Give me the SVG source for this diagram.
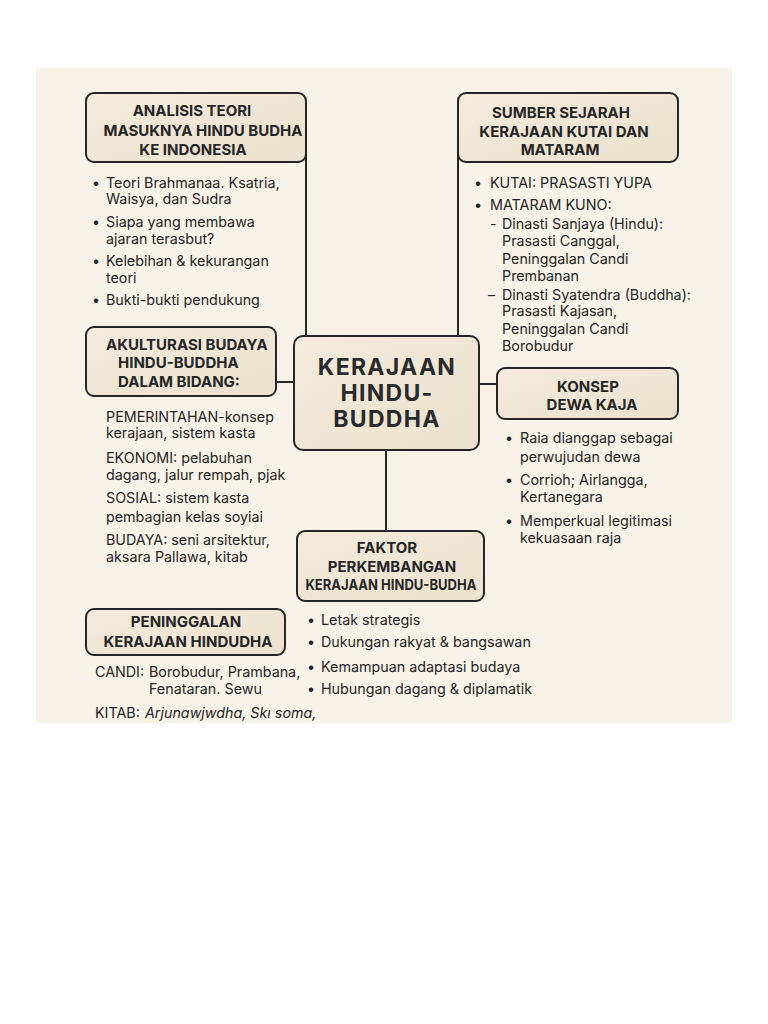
<svg xmlns="http://www.w3.org/2000/svg" width="768" height="1024" viewBox="0 0 768 1024">
<defs>
<linearGradient id="bf" x1="0" y1="0" x2="1" y2="1">
<stop offset="0" stop-color="#f3ebdc"/><stop offset="1" stop-color="#ebe1ce"/>
</linearGradient>
<style>
.box{fill:url(#bf);stroke:#262626;stroke-width:2}
.hd{font-family:Inter,"Noto Sans",sans-serif;font-weight:700;font-size:15px;fill:#262626}
.ct{font-family:Inter,"Noto Sans",sans-serif;font-weight:700;font-size:23px;letter-spacing:1.3px;fill:#2a2a2a;text-anchor:middle}
.tx{font-family:Inter,"Noto Sans",sans-serif;font-size:14.3px;fill:#262626}
.mid{text-anchor:middle}
.ln{stroke:#262626;stroke-width:2;fill:none}
</style>
</defs>
<rect x="0" y="0" width="768" height="1024" fill="#ffffff"/>
<rect x="36" y="68" width="696" height="655" fill="#f8f3e8"/>

<g id="connectors">
<line class="ln" x1="306" y1="150" x2="306" y2="337"/>
<line class="ln" x1="458" y1="150" x2="458" y2="337"/>
<line class="ln" x1="276" y1="382" x2="294" y2="382"/>
<line class="ln" x1="479" y1="384" x2="497" y2="384"/>
<line class="ln" x1="386" y1="450" x2="386" y2="531"/>
</g>

<g id="central">
<rect class="box" x="294" y="336" width="185" height="114" rx="9"/>
<text class="ct" x="387" y="375">KERAJAAN</text>
<text class="ct" x="387" y="401">HINDU-</text>
<text class="ct" x="387" y="427">BUDDHA</text>
</g>

<g id="analisis">
<rect class="box" x="86" y="93" width="220" height="69" rx="8"/>
<text class="hd mid" x="192" y="116">ANALISIS TEORI</text>
<text class="hd mid" x="203" y="136">MASUKNYA HINDU BUDHA</text>
<text class="hd mid" x="193" y="155">KE INDONESIA</text>
<g class="tx">
<text x="92" y="188">•</text><text x="106" y="188">Teori Brahmanaa. Ksatria,</text>
<text x="106" y="204">Waisya, dan Sudra</text>
<text x="92" y="227">•</text><text x="106" y="227">Siapa yang membawa</text>
<text x="106" y="244">ajaran terasbut?</text>
<text x="92" y="266">•</text><text x="106" y="266">Kelebihan &amp; kekurangan</text>
<text x="106" y="283">teori</text>
<text x="92" y="305">•</text><text x="106" y="305">Bukti-bukti pendukung</text>
</g>
</g>

<g id="sumber">
<rect class="box" x="458" y="93" width="220" height="69" rx="8"/>
<text class="hd mid" x="561" y="118">SUMBER SEJARAH</text>
<text class="hd mid" x="564" y="137">KERAJAAN KUTAI DAN</text>
<text class="hd mid" x="560" y="155">MATARAM</text>
<g class="tx">
<text x="474" y="188">•</text><text x="490" y="188">KUTAI: PRASASTI YUPA</text>
<text x="474" y="210">•</text><text x="490" y="210">MATARAM KUNO:</text>
<text x="490" y="229">-</text><text x="502" y="229">Dinasti Sanjaya (Hindu):</text>
<text x="502" y="246">Prasasti Canggal,</text>
<text x="502" y="264">Peninggalan Candi</text>
<text x="502" y="281">Prembanan</text>
<text x="488" y="300">–</text><text x="502" y="300">Dinasti Syatendra (Buddha):</text>
<text x="502" y="316">Prasasti Kajasan,</text>
<text x="502" y="334">Peninggalan Candi</text>
<text x="502" y="351">Borobudur</text>
</g>
</g>

<g id="akulturasi">
<rect class="box" x="86" y="327" width="190" height="69" rx="8"/>
<text class="hd" x="106" y="350">AKULTURASI BUDAYA</text>
<text class="hd" x="118" y="368">HINDU-BUDDHA</text>
<text class="hd" x="118" y="387">DALAM BIDANG:</text>
<g class="tx">
<text x="106" y="422">PEMERINTAHAN-konsep</text>
<text x="106" y="438">kerajaan, sistem kasta</text>
<text x="106" y="463">EKONOMI: pelabuhan</text>
<text x="106" y="480">dagang, jalur rempah, pjak</text>
<text x="106" y="503">SOSIAL: sistem kasta</text>
<text x="106" y="522">pembagian kelas soyiai</text>
<text x="106" y="545">BUDAYA: seni arsitektur,</text>
<text x="106" y="562">aksara Pallawa, kitab</text>
</g>
</g>

<g id="konsep">
<rect class="box" x="497" y="368" width="181" height="51" rx="8"/>
<text class="hd mid" x="588" y="392">KONSEP</text>
<text class="hd mid" x="592" y="410">DEWA KAJA</text>
<g class="tx">
<text x="505" y="443">•</text><text x="520" y="443">Raia dianggap sebagai</text>
<text x="520" y="462">perwujudan dewa</text>
<text x="505" y="485">•</text><text x="520" y="485">Corrioh; Airlangga,</text>
<text x="520" y="502">Kertanegara</text>
<text x="505" y="526">•</text><text x="520" y="526">Memperkual legitimasi</text>
<text x="520" y="543">kekuasaan raja</text>
</g>
</g>

<g id="faktor">
<rect class="box" x="297" y="531" width="187" height="70" rx="8"/>
<text class="hd mid" x="387" y="553">FAKTOR</text>
<text class="hd mid" x="392" y="572">PERKEMBANGAN</text>
<text class="hd mid" x="391" y="590" textLength="171" lengthAdjust="spacingAndGlyphs">KERAJAAN HINDU-BUDHA</text>
<g class="tx">
<text x="307" y="625">•</text><text x="321" y="625">Letak strategis</text>
<text x="307" y="647">•</text><text x="321" y="647">Dukungan rakyat &amp; bangsawan</text>
<text x="307" y="672">•</text><text x="321" y="672">Kemampuan adaptasi budaya</text>
<text x="307" y="694">•</text><text x="321" y="694">Hubungan dagang &amp; diplamatik</text>
</g>
</g>

<g id="peninggalan">
<rect class="box" x="86" y="609" width="199" height="46" rx="8"/>
<text class="hd mid" x="186" y="627">PENINGGALAN</text>
<text class="hd mid" x="188" y="647">KERAJAAN HINDUDHA</text>
<g class="tx">
<text x="95" y="677">CANDI:</text><text x="149" y="677">Borobudur, Prambana,</text>
<text x="149" y="694">Fenataran. Sewu</text>
<text x="95" y="718">KITAB:</text><text x="145" y="718" font-style="italic">Arjunawjwdha, Skı soma,</text>
</g>
</g>
</svg>
